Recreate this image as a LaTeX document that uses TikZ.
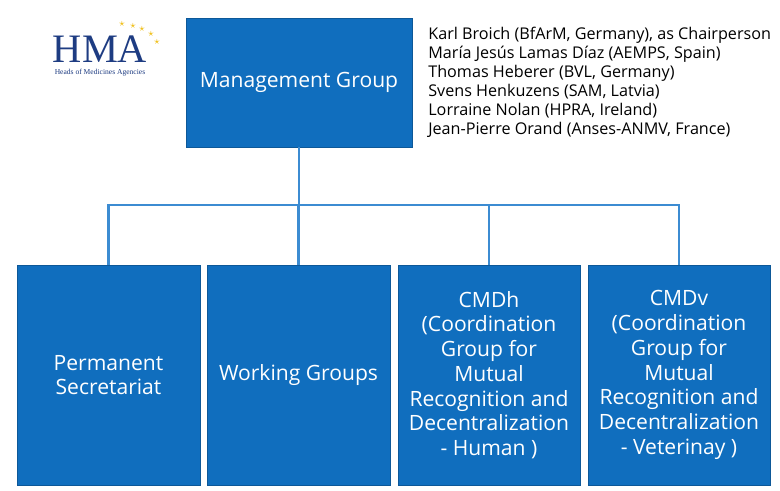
\documentclass[tikz,border=0pt]{standalone}
\usepackage{fontspec}
\setmainfont{Open Sans}
\newfontfamily\logofont{Liberation Serif}
\usetikzlibrary{positioning}
\definecolor{hmablue}{RGB}{16,110,190}
\definecolor{lineblue}{RGB}{60,140,210}
\definecolor{navy}{RGB}{30,60,130}
\definecolor{star}{RGB}{240,190,20}
\begin{document}
\begin{tikzpicture}[
    x=0.02cm, y=-0.02cm,
    box/.style={rectangle, draw=hmablue!80!black, fill=hmablue, text=white, align=center, font=\fontsize{12}{14.1}\selectfont, inner sep=2pt},
    link/.style={draw=lineblue, line width=1.2pt}
]
    \useasboundingbox (0,0) rectangle (780,490);
    % logo
    \node[fill=white, minimum width=112*0.02cm, minimum height=62*0.02cm] (logo) at (103,47) {};
    \node[text=navy, font=\logofont\fontsize{23}{23}\selectfont, inner sep=0pt] (hma) at (100,49) {HMA};
    \node[text=navy, font=\logofont\fontsize{4.3}{5}\selectfont, below=3.5pt of hma, inner sep=0pt] (hmasub) {Heads of Medicines Agencies};
    \foreach \sx/\sy in {122/24,133/26,142/29,151/34,157/42}
        \node[text=star, font=\fontsize{6}{6}\selectfont, inner sep=0pt] at (\sx,\sy) {$\star$};
    % boxes
    \node[box, minimum width=226*0.02cm, minimum height=129*0.02cm] (mgmt) at (299,82.5) {Management Group};
    \node[box, minimum width=183*0.02cm, minimum height=220*0.02cm] (secr) at (108.5,375) {Permanent\\Secretariat};
    \node[box, minimum width=183*0.02cm, minimum height=220*0.02cm] (wg) at (298.5,375) {Working Groups};
    \node[box, minimum width=182*0.02cm, minimum height=220*0.02cm] (cmdh) at (489,375) {CMDh\\(Coordination\\Group for\\Mutual\\Recognition and\\Decentralization\\- Human )};
    \node[box, minimum width=182*0.02cm, minimum height=220*0.02cm] (cmdv) at (679,375) {CMDv\\(Coordination\\Group for\\Mutual\\Recognition and\\Decentralization\\- Veterinay )};
    % members
    \node[anchor=north west, align=left, inner sep=0pt, font=\fontsize{9.2}{10.8}\selectfont] (members) at (428,27)
        {Karl Broich (BfArM, Germany), as Chairperson\\
         María Jesús Lamas Díaz (AEMPS, Spain)\\
         Thomas Heberer (BVL, Germany)\\
         Svens Henkuzens (SAM, Latvia)\\
         Lorraine Nolan (HPRA, Ireland)\\
         Jean-Pierre Orand (Anses-ANMV, France)};
    % connectors
    \coordinate (hub) at (mgmt.south |- 0,205);
    \draw[link] (mgmt.south) -- (hub);
    \draw[link] (secr.north) |- (hub) -| (cmdv.north);
    \draw[link] (wg.north) -- (wg.north |- hub);
    \draw[link] (cmdh.north) -- (cmdh.north |- hub);
\end{tikzpicture}
\end{document}
